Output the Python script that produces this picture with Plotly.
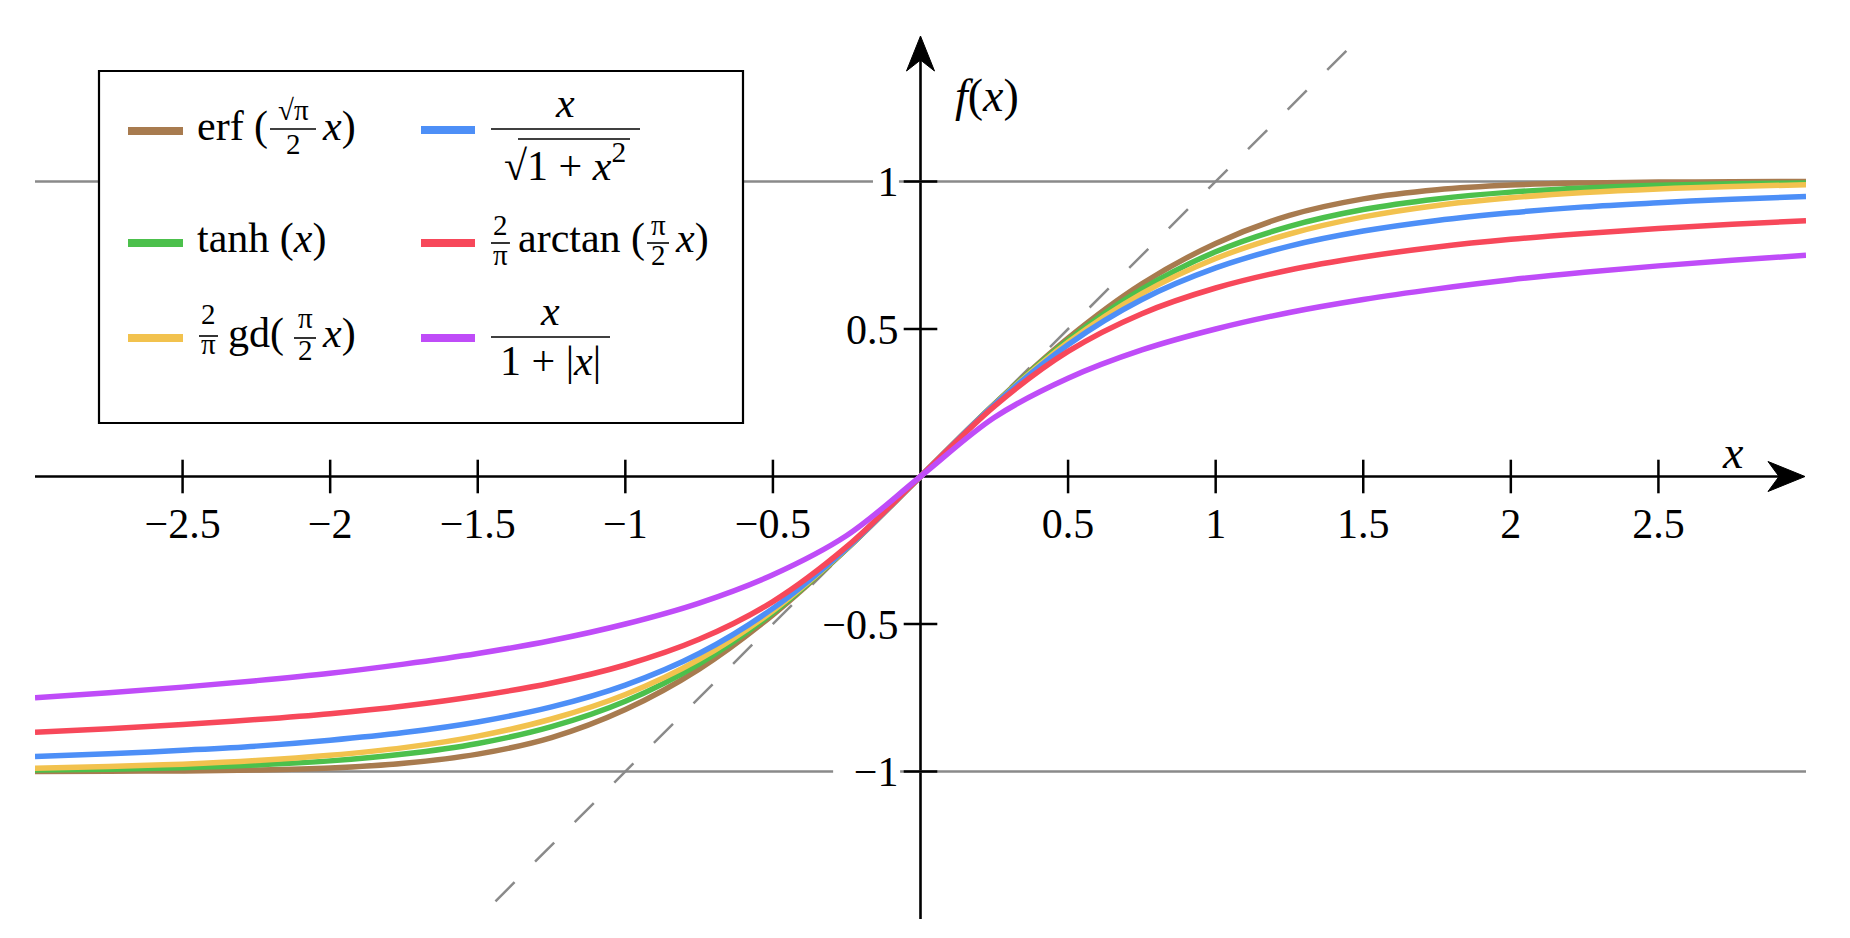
import plotly.graph_objects as go

# sample points
x_vals = [-3.0, -2.75, -2.5, -2.25, -2.0, -1.75, -1.5, -1.25, -1.0, -0.75, -0.5, -0.25,
          0.0, 0.25, 0.5, 0.75, 1.0, 1.25, 1.5, 1.75, 2.0, 2.25, 2.5, 2.75, 3.0]

erf_vals = [-1.000, -0.999, -0.998, -0.995, -0.988, -0.972, -0.941, -0.885, -0.790, -0.653, -0.469, -0.246,
            0.0, 0.246, 0.469, 0.653, 0.790, 0.885, 0.941, 0.972, 0.988, 0.995, 0.998, 0.999, 1.000]
tanh_vals = [-0.995, -0.992, -0.987, -0.978, -0.964, -0.941, -0.905, -0.848, -0.762, -0.635, -0.462, -0.245,
             0.0, 0.245, 0.462, 0.635, 0.762, 0.848, 0.905, 0.941, 0.964, 0.978, 0.987, 0.992, 0.995]
gd_vals = [-0.989, -0.983, -0.975, -0.963, -0.945, -0.919, -0.880, -0.822, -0.739, -0.620, -0.455, -0.244,
           0.0, 0.244, 0.455, 0.620, 0.739, 0.822, 0.880, 0.919, 0.945, 0.963, 0.975, 0.983, 0.989]
alg_vals = [-0.949, -0.940, -0.928, -0.914, -0.894, -0.868, -0.832, -0.781, -0.707, -0.600, -0.447, -0.243,
            0.0, 0.243, 0.447, 0.600, 0.707, 0.781, 0.832, 0.868, 0.894, 0.914, 0.928, 0.940, 0.949]
atan_vals = [-0.867, -0.855, -0.841, -0.824, -0.804, -0.778, -0.744, -0.700, -0.639, -0.552, -0.424, -0.238,
             0.0, 0.238, 0.424, 0.552, 0.639, 0.700, 0.744, 0.778, 0.804, 0.824, 0.841, 0.855, 0.867]
soft_vals = [-0.750, -0.733, -0.714, -0.692, -0.667, -0.636, -0.600, -0.556, -0.500, -0.429, -0.333, -0.200,
             0.0, 0.200, 0.333, 0.429, 0.500, 0.556, 0.600, 0.636, 0.667, 0.692, 0.714, 0.733, 0.750]

# y = x guide
diag_x = [-1.44, 1.47]
diag_y = [-1.44, 1.47]

# y = +-1 guides (broken where the tick labels sit)
guide_x = [-3.0, -0.161, None, -0.073, 3.01, None, -3.0, -0.296, None, -0.069, 3.01]
guide_y = [1.0, 1.0, None, 1.0, 1.0, None, -1.0, -1.0, None, -1.0, -1.0]

xtick_vals = [-2.5, -2, -1.5, -1, -0.5, 0.5, 1, 1.5, 2, 2.5]
xtick_text = ["\u22122.5", "\u22122", "\u22121.5", "\u22121", "\u22120.5", "0.5", "1", "1.5", "2", "2.5"]
ytick_vals = [-1, -0.5, 0.5, 1]
ytick_text = ["\u22121", "\u22120.5", "0.5", "1"]

series = [
    (erf_vals, "#A87B4F"),
    (tanh_vals, "#4CC04C"),
    (gd_vals, "#F2C24E"),
    (alg_vals, "#4D8FF7"),
    (atan_vals, "#F7485A"),
    (soft_vals, "#BF4CF8"),
]

FONT = "Liberation Serif"
W, H = 1850, 938
ML, MR, MT, MB = 35, 44, 34, 19


def px_x(p):
    return -3 + 6 * (p - ML) / (W - ML - MR)


def px_y(p):
    return 1.5 - 3 * (p - MT) / (H - MT - MB)


def pt(px, py):
    return f"{px_x(px):.5f},{px_y(py):.5f}"


fig = go.Figure()

fig.add_trace(go.Scatter(x=guide_x, y=guide_y, mode="lines",
                         line=dict(color="#8a8a8a", width=2.5), hoverinfo="skip"))
fig.add_trace(go.Scatter(x=diag_x, y=diag_y, mode="lines",
                         line=dict(color="#8a8a8a", width=2.5, dash="27px,29px"), hoverinfo="skip"))

for vals, col in series:
    fig.add_trace(go.Scatter(x=x_vals, y=vals, mode="lines",
                             line=dict(color=col, width=5.5, shape="spline"), hoverinfo="skip"))

# tick marks crossing the axes
fig.add_trace(go.Scatter(x=xtick_vals, y=[0] * len(xtick_vals), mode="markers",
                         marker=dict(symbol="line-ns", size=24, line=dict(color="black", width=2.5)),
                         hoverinfo="skip"))
fig.add_trace(go.Scatter(x=[0] * len(ytick_vals), y=ytick_vals, mode="markers",
                         marker=dict(symbol="line-ew", size=24, line=dict(color="black", width=2.5)),
                         hoverinfo="skip"))

shapes = []
# axis lines and arrow heads
shapes.append(dict(type="line", xref="x", yref="y", x0=px_x(35), x1=px_x(1782), y0=0, y1=0,
                   line=dict(color="black", width=2.6), layer="below"))
shapes.append(dict(type="line", xref="x", yref="y", x0=0, x1=0, y0=px_y(919), y1=px_y(58),
                   line=dict(color="black", width=2.6), layer="below"))
shapes.append(dict(type="path", xref="x", yref="y",
                   path=f"M{pt(1805, 476.5)} L{pt(1768, 461.5)} L{pt(1779, 476.5)} L{pt(1768, 491.5)} Z",
                   fillcolor="black", line=dict(color="black", width=1), layer="above"))
shapes.append(dict(type="path", xref="x", yref="y",
                   path=f"M{pt(920.5, 36)} L{pt(906.5, 71)} L{pt(920.5, 60)} L{pt(934.5, 71)} Z",
                   fillcolor="black", line=dict(color="black", width=1), layer="above"))

fig.add_annotation(x=px_x(987), y=px_y(95), text="<i>f</i>(<i>x</i>)", showarrow=False,
                   font=dict(family=FONT, size=46, color="black"))
fig.add_annotation(x=px_x(1733), y=px_y(452), text="<i>x</i>", showarrow=False,
                   font=dict(family=FONT, size=46, color="black"))

# legend box
shapes.append(dict(type="rect", xref="x", yref="y", x0=px_x(99), x1=px_x(743), y0=px_y(71), y1=px_y(423),
                   line=dict(color="black", width=2.2), fillcolor="white", layer="above"))

swatches = [(128, 183, 131), (128, 183, 243), (128, 183, 338),
            (421, 475, 130), (421, 475, 243), (421, 475, 338)]
for (a, b, yy), (_, col) in zip(swatches, series):
    shapes.append(dict(type="line", xref="x", yref="y", x0=px_x(a), x1=px_x(b), y0=px_y(yy), y1=px_y(yy),
                       line=dict(color=col, width=8), layer="above"))

bars = [(270, 316, 129), (199, 218, 336), (294, 316, 338), (491, 640, 129),
        (491, 510, 243), (647, 669, 243), (491, 610, 337)]
for a, b, yy in bars:
    shapes.append(dict(type="line", xref="x", yref="y", x0=px_x(a), x1=px_x(b), y0=px_y(yy), y1=px_y(yy),
                       line=dict(color="black", width=1.6), layer="above"))
# overline of the square root
shapes.append(dict(type="line", xref="x", yref="y", x0=px_x(518), x1=px_x(630), y0=px_y(139), y1=px_y(139),
                   line=dict(color="black", width=1.6), layer="above"))

fig.update_layout(shapes=shapes)

BIG, SMALL = 42, 29
pieces = [
    # (text, x px, y px, size, anchor)
    ("erf (", 195, 126, BIG, "left"),
    ("\u221a\u03c0", 293, 110, SMALL, "center"),
    ("2", 293, 144, SMALL, "center"),
    ("<i>x</i>)", 320, 126, BIG, "left"),
    ("tanh (<i>x</i>)", 195, 238, BIG, "left"),
    ("2", 208, 314, SMALL, "center"),
    ("\u03c0", 208, 344, SMALL, "center"),
    ("gd(", 226, 333, BIG, "left"),
    ("\u03c0", 305, 318, SMALL, "center"),
    ("2", 305, 350, SMALL, "center"),
    ("<i>x</i>)", 320, 333, BIG, "left"),
    ("<i>x</i>", 565, 103, BIG, "center"),
    ("\u221a1 + <i>x</i><sup>2</sup>", 565, 162, BIG, "center"),
    ("2", 500, 225, SMALL, "center"),
    ("\u03c0", 500, 255, SMALL, "center"),
    ("arctan (", 516, 238, BIG, "left"),
    ("\u03c0", 658, 225, SMALL, "center"),
    ("2", 658, 255, SMALL, "center"),
    ("<i>x</i>)", 673, 238, BIG, "left"),
    ("<i>x</i>", 550, 311, BIG, "center"),
    ("1 + |<i>x</i>|", 550, 361, BIG, "center"),
]
for txt, xp, yp, sz, anc in pieces:
    fig.add_annotation(x=px_x(xp), y=px_y(yp), text=txt, showarrow=False, xanchor=anc, yanchor="middle",
                       font=dict(family=FONT, size=sz, color="black"))

fig.update_xaxes(range=[-3, 3], showgrid=False, zeroline=False, showline=False,
                 anchor="free", position=0.5, tickmode="array", tickvals=xtick_vals, ticktext=xtick_text,
                 ticks="", ticklabelstandoff=18, tickfont=dict(family=FONT, size=42, color="black"))
fig.update_yaxes(range=[-1.5, 1.5], showgrid=False, zeroline=False, showline=False,
                 anchor="free", position=0.5, tickmode="array", tickvals=ytick_vals, ticktext=ytick_text,
                 ticks="", ticklabelstandoff=22, tickfont=dict(family=FONT, size=42, color="black"))

fig.update_layout(width=W, height=H, margin=dict(l=ML, r=MR, t=MT, b=MB),
                  plot_bgcolor="white", paper_bgcolor="white", showlegend=False)

fig.write_html("out.html", config={"displayModeBar": False},
               post_script="document.body.style.margin='0';document.body.style.overflow='hidden';")
